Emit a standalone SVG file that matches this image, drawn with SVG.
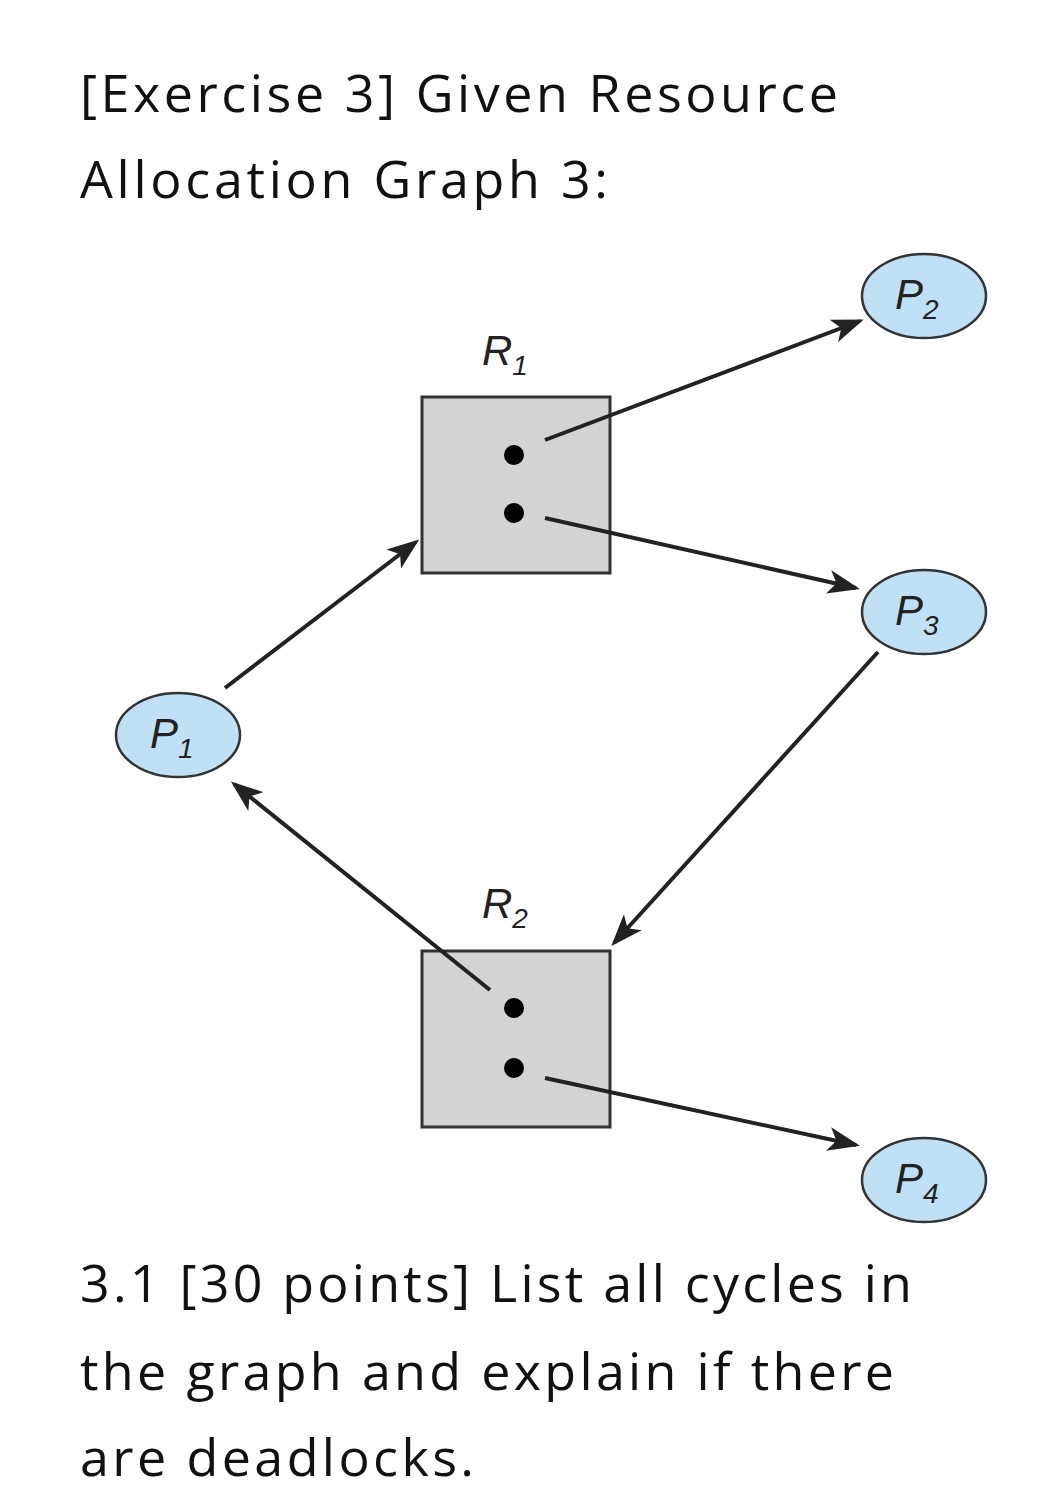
<svg xmlns="http://www.w3.org/2000/svg" width="1042" height="1501" viewBox="0 0 1042 1501">
<style>
.t{font-family:"Open Sans","Liberation Sans",sans-serif;font-size:52px;fill:#111}
.lbl{font-family:"Liberation Sans",Arial,sans-serif;font-style:italic;font-size:42px;fill:#222}
.sub{font-family:"Liberation Sans",Arial,sans-serif;font-size:28px;fill:#222}
.p{fill:#bfe0f5;stroke:#333;stroke-width:2.5}
.r{fill:#d3d3d5;stroke:#333;stroke-width:3}
.e{stroke:#222;stroke-width:4;fill:none;marker-end:url(#a)}
</style>
<defs><marker id="a" markerWidth="8" markerHeight="6" refX="7" refY="3" orient="auto" markerUnits="strokeWidth"><path d="M0,0 L8,3 L0,6 L2,3 Z" fill="#222"/></marker></defs>
<rect width="1042" height="1501" fill="#fff"/>
<text class="t" x="80" y="112" textLength="758">[Exercise 3] Given Resource</text>
<text class="t" x="80" y="198" textLength="528">Allocation Graph 3:</text>
<g id="R1"><rect class="r" x="422" y="397" width="188" height="176"/><circle cx="514" cy="455" r="10"/><circle cx="514" cy="513" r="10"/><text class="lbl" x="482" y="365">R<tspan class="sub" dy="10">1</tspan></text></g>
<g id="R2"><rect class="r" x="422" y="951" width="188" height="176"/><circle cx="514" cy="1008" r="10"/><circle cx="514" cy="1068" r="10"/><text class="lbl" x="482" y="918">R<tspan class="sub" dy="10">2</tspan></text></g>
<g id="P1"><ellipse class="p" cx="178" cy="735" rx="62" ry="42"/><text class="lbl" x="150" y="748">P<tspan class="sub" dy="10">1</tspan></text></g>
<g id="P2"><ellipse class="p" cx="924" cy="296" rx="62" ry="42"/><text class="lbl" x="895" y="309">P<tspan class="sub" dy="10">2</tspan></text></g>
<g id="P3"><ellipse class="p" cx="924" cy="612" rx="62" ry="42"/><text class="lbl" x="895" y="625">P<tspan class="sub" dy="10">3</tspan></text></g>
<g id="P4"><ellipse class="p" cx="924" cy="1180" rx="62" ry="42"/><text class="lbl" x="895" y="1193">P<tspan class="sub" dy="10">4</tspan></text></g>
<g id="edges">
<line class="e" x1="545" y1="440" x2="860" y2="321"/>
<line class="e" x1="545" y1="518" x2="856" y2="588"/>
<line class="e" x1="225" y1="688" x2="416" y2="542"/>
<line class="e" x1="878" y1="652" x2="614" y2="943"/>
<line class="e" x1="490" y1="990" x2="234" y2="784"/>
<line class="e" x1="545" y1="1078" x2="856" y2="1145"/>
</g>
<text class="t" x="80" y="1302" textLength="832">3.1 [30 points] List all cycles in</text>
<text class="t" x="80" y="1390" textLength="814">the graph and explain if there</text>
<text class="t" x="80" y="1476" textLength="394">are deadlocks.</text>
</svg>
